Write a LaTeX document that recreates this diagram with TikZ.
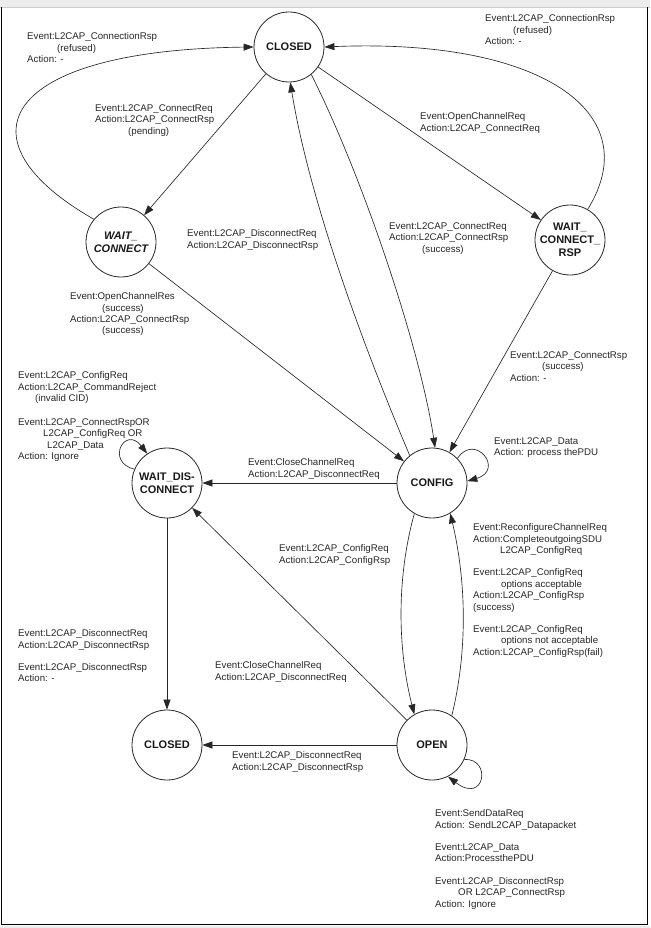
\documentclass[tikz,border=0pt]{standalone}
\usepackage{fontspec}
\setmainfont{Liberation Sans}
\usetikzlibrary{arrows.meta}
\begin{document}
\begin{tikzpicture}[x=1pt,y=-1pt,
  state/.style={circle,draw=black!85,line width=0.8pt,minimum size=70pt,inner sep=0pt,
    font=\fontsize{11}{13}\selectfont\bfseries,align=center,text=black!90},
  lbl/.style={anchor=north west,inner sep=0pt,align=left,
    font=\fontsize{9.7}{11.4}\selectfont,text=black!85},
  arr/.style={draw=black!85,line width=0.65pt,-{Triangle[length=10pt,width=7pt]}},
]
\useasboundingbox (0,0) rectangle (650,928);
% frame
\fill[gray!15] (0,0) rectangle (650,7);
\draw[gray!40,line width=0.6pt] (0,7) -- (650,7);
\fill[gray!15] (0,925.5) rectangle (650,928);
\draw[black,line width=1.4pt] (1.5,7) -- (1.5,924.5) -- (647.5,924.5) -- (647.5,7);

% states
\node[state] (closedT) at (289,47) {CLOSED};
\node[state,font=\fontsize{11}{13}\selectfont\bfseries\itshape] (wc) at (121,242) {WAIT\_\\CONNECT};
\node[state] (wcr) at (570,240) {WAIT\_\\CONNECT\_\\RSP};
\node[state] (config) at (432,483) {CONFIG};
\node[state] (wd) at (167,483) {WAIT\_DIS-\\CONNECT};
\node[state] (closedB) at (167,745) {CLOSED};
\node[state] (open) at (432,745) {OPEN};

% connectors
\draw[arr] (wc.140) .. controls (-45,140) and (0,50) .. (closedT.west);
\draw[arr] (closedT) -- (wc);
\draw[arr] (closedT) -- (wcr);
\draw[arr] (wcr.60) .. controls (648,112) and (540,38) .. (closedT.east);
\draw[arr] (config.129) .. controls (365,350) and (310,203) .. (closedT.272);
\draw[arr] (closedT.309) .. controls (362,175) and (420,347) .. (config.85);
\draw[arr] (wc) -- (config);
\draw[arr] (wcr) -- (config);
\draw[arr] (config.44) .. controls (475,432) and (505,470) .. (config.3);
\draw[arr] (config) -- (wd);
\draw[arr] (wd.157) .. controls (105,462) and (125,425) .. (wd.124);
\draw[arr] (wd) -- (closedB);
\draw[arr] (config.240) .. controls (396,580) and (398,650) .. (open.120);
\draw[arr] (open.56) .. controls (468,650) and (466,580) .. (config.301);
\draw[arr] (open) -- (wd);
\draw[arr] (open) -- (closedB);
\draw[arr] (open.336) .. controls (492,758) and (485,805) .. (open.297);

% labels
\node[lbl] (l1) at (27,32.5) {Event:L2CAP\_ConnectionRsp\\\hspace*{30pt}(refused)\\Action: -};
\node[lbl] (l2) at (485,14.5) {Event:L2CAP\_ConnectionRsp\\\hspace*{28pt}(refused)\\Action: -};
\node[lbl] (l3) at (95,104.5) {Event:L2CAP\_ConnectReq\\Action:L2CAP\_ConnectRsp\\\hspace*{33pt}(pending)};
\node[lbl] (l4) at (420,112.5) {Event:OpenChannelReq\\Action:L2CAP\_ConnectReq};
\node[lbl] (l5) at (187,229.5) {Event:L2CAP\_DisconnectReq\\Action:L2CAP\_DisconnectRsp};
\node[lbl] (l6) at (389,222.5) {Event:L2CAP\_ConnectReq\\Action:L2CAP\_ConnectRsp\\\hspace*{33pt}(success)};
\node[lbl] (l7) at (70,292.5) {Event:OpenChannelRes\\\hspace*{32pt}(success)\\Action:L2CAP\_ConnectRsp\\\hspace*{32pt}(success)};
\node[lbl] (l8) at (510,351.5) {Event:L2CAP\_ConnectRsp\\\hspace*{32pt}(success)\\Action: -};
\node[lbl] (l9) at (494,437.5) {Event:L2CAP\_Data\\Action: process thePDU};
\node[lbl] (l10) at (248,458.5) {Event:CloseChannelReq\\Action:L2CAP\_DisconnectReq};
\node[lbl] (l11) at (18,371.5) {Event:L2CAP\_ConfigReq\\Action:L2CAP\_CommandReject\\\hspace*{17pt}(invalid CID)};
\node[lbl] (l12) at (18,418.5) {Event:L2CAP\_ConnectRspOR\\\hspace*{25pt}L2CAP\_ConfigReq OR\\\hspace*{29pt}L2CAP\_Data\\Action: Ignore};
\node[lbl] (l13) at (279,544.5) {Event:L2CAP\_ConfigReq\\Action:L2CAP\_ConfigRsp};
\node[lbl] (l14) at (473,523.5) {Event:ReconfigureChannelReq\\Action:CompleteoutgoingSDU\\\hspace*{27pt}L2CAP\_ConfigReq\\[11pt]Event:L2CAP\_ConfigReq\\\hspace*{28pt}options acceptable\\Action:L2CAP\_ConfigRsp\\(success)\\[11pt]Event:L2CAP\_ConfigReq\\\hspace*{28pt}options not acceptable\\Action:L2CAP\_ConfigRsp(fail)};
\node[lbl] (l15) at (18,629.5) {Event:L2CAP\_DisconnectReq\\Action:L2CAP\_DisconnectRsp\\[11pt]Event:L2CAP\_DisconnectRsp\\Action: -};
\node[lbl] (l16) at (215,661.5) {Event:CloseChannelReq\\Action:L2CAP\_DisconnectReq};
\node[lbl] (l17) at (232,751.5) {Event:L2CAP\_DisconnectReq\\Action:L2CAP\_DisconnectRsp};
\node[lbl] (l18) at (435,809.5) {Event:SendDataReq\\Action: SendL2CAP\_Datapacket\\[11pt]Event:L2CAP\_Data\\Action:ProcessthePDU\\[11pt]Event:L2CAP\_DisconnectRsp\\\hspace*{23pt}OR L2CAP\_ConnectRsp\\Action: Ignore};
\end{tikzpicture}
\end{document}
